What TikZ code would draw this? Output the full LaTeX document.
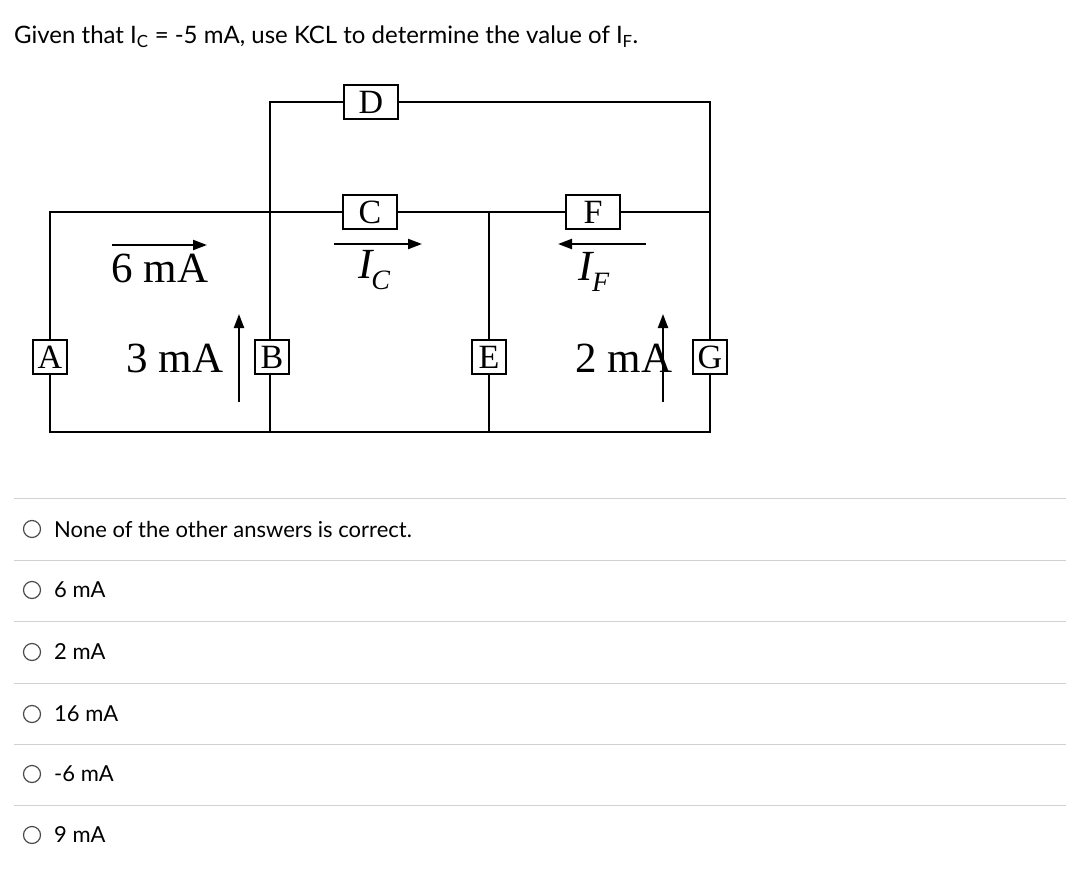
\documentclass[tikz,border=0pt]{standalone}
\usepackage{fontspec}
\setmainfont{Lato}
\newfontfamily\tms{Liberation Serif}
\usetikzlibrary{arrows.meta}
\newcommand{\curlab}[1]{{\tms\itshape I\kern-1pt\raisebox{-0.25em}{\tms\itshape\fontsize{28}{28}\selectfont #1}}}
\begin{document}
\begin{tikzpicture}[x=1pt,y=-1pt,
  wire/.style={line width=2.6pt},
  elem/.style={draw,line width=2pt,fill=white,minimum width=34pt,minimum height=34pt,inner sep=0pt,font=\tms\fontsize{34}{34}\selectfont},
  lbl/.style={font=\tms\fontsize{43}{43}\selectfont,inner sep=0pt},
  cur/.style={line width=2.2pt,-{Triangle[length=14pt,width=10pt]}},
  opt/.style={font=\fontsize{22}{26}\selectfont,anchor=west,inner sep=0pt},
  rad/.style={draw=gray!60!black,line width=1.2pt,circle,minimum size=17pt,inner sep=0pt},
  sep/.style={draw=gray!35,line width=1pt}]
\useasboundingbox (0,0) rectangle (1066,870);
\node[anchor=west,inner sep=0pt,font=\fontsize{24}{28}\selectfont] (q) at (14,37) {Given that I\textsubscript{C} = -5 mA, use KCL to determine the value of I\textsubscript{F}.};
\coordinate (tl) at (270,102); \coordinate (tr) at (710,102);
\coordinate (ml) at (50,212); \coordinate (mr) at (710,212);
\coordinate (mb) at (270,212); \coordinate (me) at (489,212);
\coordinate (bl) at (50,432); \coordinate (bb) at (270,432); \coordinate (be) at (489,432); \coordinate (br) at (710,432);
\draw[wire] (bb) -- (tl) -- (tr) -- (br) -- (bl) -- (ml) -- (mr);
\draw[wire] (me) -- (be);
\node[elem,minimum width=54pt] (D) at (371,102) {D};
\node[elem,minimum width=54pt] (C) at (370,212) {C};
\node[elem,minimum width=54pt] (F) at (593,212) {F};
\node[elem] (A) at (50,357) {A};
\node[elem] (B) at (272,357) {B};
\node[elem] (E) at (489,357) {E};
\node[elem] (G) at (710,357) {G};
\node[lbl] (l6) at (160,268) {6 mA};
\node[lbl] (lc) at (374,270) {\curlab{C}};
\node[lbl] (lf) at (594,272) {\curlab{F}};
\node[lbl] (l3) at (175,358) {3 mA};
\node[lbl] (l2) at (624,358) {2 mA};
\coordinate (a6s) at (112,245); \coordinate (a6e) at (207,245);
\coordinate (acs) at (334,244); \coordinate (ace) at (422,244);
\coordinate (afs) at (646,244); \coordinate (afe) at (558,244);
\coordinate (a3s) at (239,402); \coordinate (a3e) at (239,314);
\coordinate (a2s) at (663,402); \coordinate (a2e) at (663,314);
\draw[cur] (a6s) -- (a6e);
\draw[cur] (acs) -- (ace);
\draw[cur] (afs) -- (afe);
\draw[cur] (a3s) -- (a3e);
\draw[cur] (a2s) -- (a2e);
\foreach \y in {498,560,621,683,744,805} \draw[sep] (14,\y) -- (1066,\y);
\node[rad] (r1) at (32,529) {}; \node[opt] (o1) at (54,529) {None of the other answers is correct.};
\node[rad] (r2) at (32,590) {}; \node[opt] (o2) at (54,590) {6 mA};
\node[rad] (r3) at (32,652) {}; \node[opt] (o3) at (54,652) {2 mA};
\node[rad] (r4) at (32,714) {}; \node[opt] (o4) at (54,714) {16 mA};
\node[rad] (r5) at (32,774) {}; \node[opt] (o5) at (54,774) {-6 mA};
\node[rad] (r6) at (32,835) {}; \node[opt] (o6) at (54,835) {9 mA};
\end{tikzpicture}
\end{document}
